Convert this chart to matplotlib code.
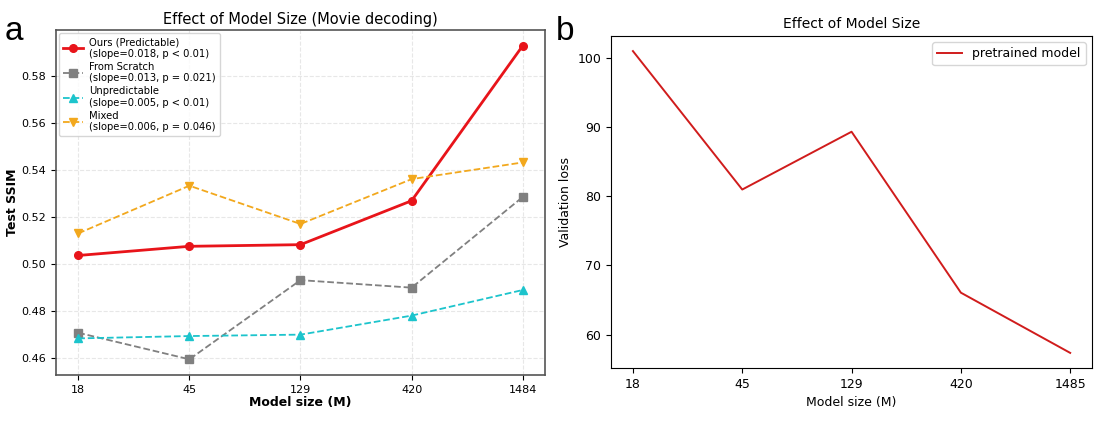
import matplotlib
matplotlib.use('Agg')
import matplotlib.pyplot as plt

# ── data ─────────────────────────────────────────────
sizes_a = ['18', '45', '129', '420', '1484']
ours = [0.5035, 0.5074, 0.5081, 0.5268, 0.5928]
scratch = [0.4706, 0.4593, 0.4930, 0.4898, 0.5284]
unpred = [0.4682, 0.4692, 0.4698, 0.4779, 0.4888]
mixed = [0.5129, 0.5332, 0.5169, 0.5360, 0.5431]

sizes_b = ['18', '45', '129', '420', '1485']
val_loss = [100.95, 80.95, 89.3, 66.05, 57.35]

fig = plt.figure(figsize=(11.07, 4.22), dpi=100)

# ── panel a ──────────────────────────────────────────
ax1 = fig.add_axes([0.0506, 0.1114, 0.4417, 0.8175])
x = range(len(sizes_a))
ax1.plot(x, ours, marker='o', markersize=5.5, linewidth=2, color='#e8141a',
         label='Ours (Predictable)\n(slope=0.018, p < 0.01)')
ax1.plot(x, scratch, marker='s', markersize=5.5, linewidth=1.3, linestyle='--',
         color='#808080', label='From Scratch\n(slope=0.013, p = 0.021)')
ax1.plot(x, unpred, marker='^', markersize=5.5, linewidth=1.3, linestyle='--',
         color='#1cc4cc', label='Unpredictable\n(slope=0.005, p < 0.01)')
ax1.plot(x, mixed, marker='v', markersize=5.5, linewidth=1.3, linestyle='--',
         color='#f2a81d', label='Mixed\n(slope=0.006, p = 0.046)')
ax1.set_xticks(list(x))
ax1.set_xticklabels(sizes_a)
ax1.set_yticks([0.46, 0.48, 0.50, 0.52, 0.54, 0.56, 0.58])
ax1.tick_params(labelsize=8)
ax1.set_xlabel('Model size (M)', fontsize=9, fontweight='bold', labelpad=1)
ax1.set_ylabel('Test SSIM', fontsize=9, fontweight='bold', labelpad=2)
ax1.set_title('Effect of Model Size (Movie decoding)', fontsize=10.5, pad=4)
ax1.grid(True, linestyle='--', alpha=0.3)
for s in ax1.spines.values():
    s.set_color('#555555')
    s.set_linewidth(1.2)
ax1.legend(loc='upper left', fontsize=7.2, handlelength=2, labelspacing=0.3,
           borderpad=0.4, handletextpad=0.6, borderaxespad=0.3)

# ── panel b ──────────────────────────────────────────
ax2 = fig.add_axes([0.552, 0.128, 0.4345, 0.7867])
ax2.plot(range(len(sizes_b)), val_loss, color='#d01c1c', linewidth=1.4,
         label='pretrained model')
ax2.set_xticks(range(len(sizes_b)))
ax2.set_xticklabels(sizes_b)
ax2.set_yticks([60, 70, 80, 90, 100])
ax2.tick_params(labelsize=9)
ax2.set_xlabel('Model size (M)', fontsize=9)
ax2.set_ylabel('Validation loss', fontsize=9)
ax2.set_title('Effect of Model Size', fontsize=10, pad=6)
ax2.legend(loc='upper right', fontsize=9)

fig.text(0.004, 0.905, 'a', fontsize=24, family='Liberation Sans')
fig.text(0.502, 0.905, 'b', fontsize=24, family='Liberation Sans')

fig.savefig('out.png', dpi=100)
